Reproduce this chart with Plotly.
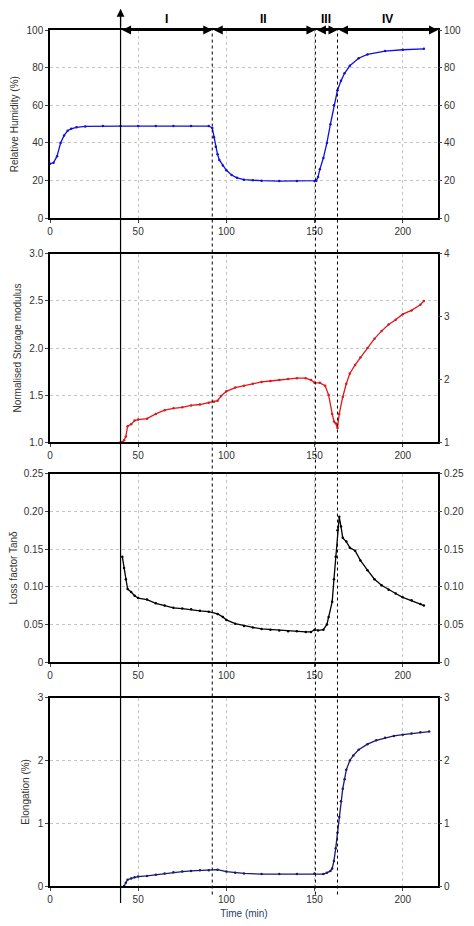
import plotly.graph_objects as go

# Relative humidity
rh_t = [0, 2, 4, 6, 8, 10, 12, 15, 20, 30, 40, 50, 60, 70, 80, 90, 92, 93, 94, 95, 96, 98, 100, 103,
        106, 110, 115, 120, 130, 140, 150, 151, 152, 153, 155, 157, 159, 161, 163, 165, 167, 170,
        175, 180, 190, 200, 212]
rh = [29, 29.5, 33, 40, 44, 46.5, 47.5, 48.3, 48.8, 49, 49, 49, 49, 49, 49, 49, 48, 43, 38, 34, 31,
      28, 25.5, 23, 21.5, 20.5, 20.2, 20, 19.8, 19.8, 19.8, 20, 22, 26, 32, 40, 50, 60, 68, 73, 77,
      81, 85, 87, 88.8, 89.5, 90]

# Normalised storage modulus
sm_t = [40, 41, 42, 43, 44, 46, 48, 50, 55, 60, 65, 70, 75, 80, 85, 90, 93, 95, 97, 100, 105, 110,
        115, 120, 125, 130, 135, 140, 145, 148, 150, 153, 156, 158, 160, 161, 162, 163, 164, 166,
        168, 170, 173, 176, 180, 184, 188, 192, 196, 200, 205, 210, 212]
sm = [1.0, 1.0, 1.02, 1.06, 1.17, 1.19, 1.23, 1.24, 1.25, 1.30, 1.34, 1.36, 1.37, 1.39, 1.40, 1.42,
      1.43, 1.44, 1.49, 1.54, 1.58, 1.60, 1.62, 1.64, 1.65, 1.66, 1.67, 1.68, 1.68, 1.66, 1.63,
      1.63, 1.60, 1.50, 1.30, 1.22, 1.20, 1.15, 1.30, 1.48, 1.62, 1.73, 1.82, 1.90, 2.00, 2.10,
      2.18, 2.25, 2.30, 2.36, 2.40, 2.46, 2.50]

# Loss factor tan delta
tan_t = [41, 42, 43, 44, 46, 48, 50, 55, 60, 65, 70, 75, 80, 85, 90, 95, 98, 100, 105, 110, 115,
         120, 125, 130, 135, 140, 145, 148, 150, 152, 155, 157, 158, 160, 161, 162, 163, 164, 165,
         166, 168, 170, 173, 176, 180, 184, 188, 192, 196, 200, 205, 210, 212]
tan_d = [0.140, 0.125, 0.110, 0.097, 0.093, 0.088, 0.085, 0.083, 0.078, 0.075, 0.072, 0.071, 0.070,
         0.068, 0.067, 0.064, 0.060, 0.056, 0.051, 0.048, 0.046, 0.044, 0.043, 0.042, 0.041, 0.041,
         0.040, 0.040, 0.043, 0.042, 0.043, 0.050, 0.060, 0.080, 0.110, 0.140, 0.175, 0.193, 0.180,
         0.165, 0.160, 0.152, 0.148, 0.135, 0.122, 0.110, 0.102, 0.096, 0.091, 0.086, 0.082, 0.077,
         0.075]

# Elongation
el_t = [42, 43, 44, 46, 48, 50, 55, 60, 65, 70, 75, 80, 85, 90, 95, 100, 105, 110, 120, 130, 140,
        150, 155, 157, 159, 160, 161, 162, 163, 164, 165, 166, 167, 168, 170, 172, 175, 180, 185,
        190, 195, 200, 205, 210, 215]
el = [0.0, 0.05, 0.10, 0.12, 0.14, 0.15, 0.16, 0.18, 0.20, 0.22, 0.23, 0.24, 0.25, 0.25, 0.26,
      0.23, 0.21, 0.20, 0.19, 0.19, 0.19, 0.20, 0.19, 0.21, 0.24, 0.28, 0.40, 0.60, 0.85, 1.10,
      1.35, 1.55, 1.70, 1.85, 2.00, 2.08, 2.17, 2.26, 2.32, 2.36, 2.39, 2.41, 2.43, 2.45, 2.46]

marks = [40, 92, 150.5, 163]
phases = ["I", "II", "III", "IV"]
phase_edges = [40, 92, 150.5, 163, 220]

tan_ticks = [0, 0.05, 0.10, 0.15, 0.20, 0.25]
tan_labels = ["0", "0.05", "0.10", "0.15", "0.20", "0.25"]

domains = [[0.78, 1.0], [0.5185, 0.7384], [0.2616, 0.4815], [0.0, 0.22]]
left_rng = [[0, 100], [1, 3], [0, 0.25], [0, 3]]
right_rng = [[0, 100], [1, 4], [0, 0.25], [0, 3]]
left_dt = [20, 0.5, 0.05, 1]
right_dt = [20, 1, 0.05, 1]
left_fmt = ["d", ".1f", ".2f", "d"]
titles = ["Relative Humidity (%)", "Normalised Storage modulus", "Loss factor Tanδ", "Elongation (%)"]
series = [(rh_t, rh, "#1010e0"), (sm_t, sm, "#e01818"), (tan_t, tan_d, "black"), (el_t, el, "#1a1a6e")]

fig = go.Figure()
lay = {}
for i in range(4):
    n = i + 1
    xa = "x" if n == 1 else f"x{n}"
    ya = "y" if n == 1 else f"y{n}"
    t, v, c = series[i]
    fig.add_trace(go.Scatter(x=t, y=v, xaxis=xa, yaxis=ya, mode="lines+markers",
                             line=dict(color=c, width=1.3), marker=dict(color=c, size=2.5),
                             showlegend=False))
    grid = dict(showgrid=True, gridcolor="#c4c4c4", griddash="dot", gridwidth=1,
                showline=True, linecolor="black", linewidth=1.5, mirror=True,
                ticks="outside", ticklen=3, zeroline=False, automargin=False,
                tickfont=dict(size=10, color="#333"))
    lay[f"xaxis{'' if n == 1 else n}"] = dict(grid, range=[0, 220], dtick=50, anchor=ya,
                                             domain=[0, 1], tick0=0,
                                             title=dict(text="Time (min)" if n == 4 else "",
                                                        font=dict(size=10), standoff=6))
    ya_d = dict(grid, range=left_rng[i], dtick=left_dt[i],
                tickformat=left_fmt[i], anchor=xa, domain=domains[i],
                title=dict(text=titles[i], font=dict(size=10, color="#333"), standoff=6))
    ra_d = dict(range=right_rng[i], dtick=right_dt[i], overlaying=ya, side="right",
                anchor=xa, showgrid=False, zeroline=False, ticks="outside", automargin=False,
                ticklen=3, tickformat=left_fmt[i] if i != 1 else "d",
                tickfont=dict(size=10, color="#333"))
    if i == 2:
        ya_d.update(tickvals=tan_ticks, ticktext=tan_labels)
        ra_d.update(tickvals=tan_ticks, ticktext=tan_labels)
    lay[f"yaxis{'' if n == 1 else n}"] = ya_d
    lay[f"yaxis{n + 4}"] = ra_d
    fig.add_trace(go.Scatter(x=[None], y=[None], xaxis=xa, yaxis=f"y{n + 4}", showlegend=False))

fig.update_layout(**lay)

shapes = []
for j, m in enumerate(marks):
    if j == 0:
        shapes.append(dict(type="line", xref="x", yref="paper", x0=m, x1=m, y0=-0.02, y1=1.024,
                           line=dict(color="black", width=1.2)))
    else:
        shapes.append(dict(type="line", xref="x", yref="paper", x0=m, x1=m, y0=-0.01, y1=1.0,
                           line=dict(color="black", width=1, dash="dot")))
fig.update_layout(shapes=shapes)

anns = [dict(x=40, y=1.026, xref="x", yref="paper", ax=0, ay=20, arrowcolor="black",
             showarrow=True, arrowhead=2, arrowsize=1.3, arrowwidth=1.2, text="")]
for k in range(4):
    a, b = phase_edges[k], phase_edges[k + 1]
    anns.append(dict(x=b, y=100, xref="x", yref="y", ax=a, ay=100, axref="x", ayref="y",
                     showarrow=True, arrowhead=2, arrowside="end+start", arrowsize=1.0,
                     arrowwidth=1.8, arrowcolor="black", text=""))
    anns.append(dict(x=(a + b) / 2, y=1.013, xref="x", yref="paper", text=f"<b>{phases[k]}</b>",
                     showarrow=False, font=dict(size=12, color="black"), yanchor="middle"))
fig.update_layout(annotations=anns)

fig.update_layout(width=474, height=926, plot_bgcolor="white", paper_bgcolor="white",
                  font=dict(family="Liberation Sans, Arial", size=10),
                  margin=dict(l=42, r=44, t=22, b=48))

fig.write_html("out.html")
